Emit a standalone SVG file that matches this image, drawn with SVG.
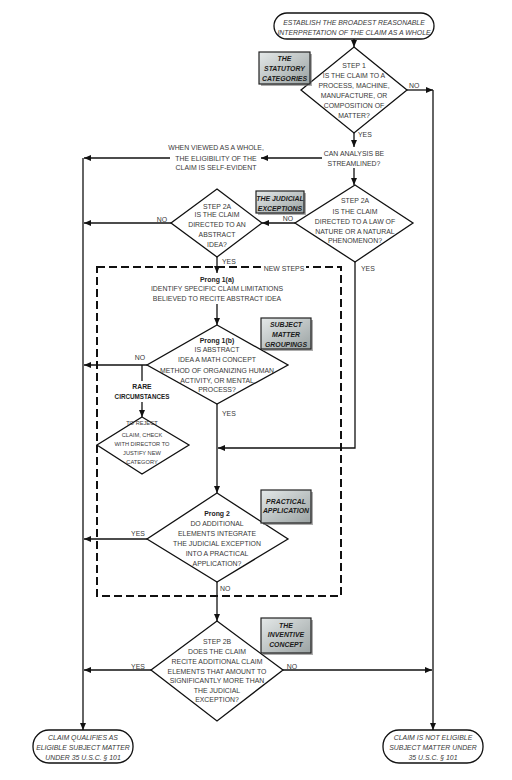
<svg xmlns="http://www.w3.org/2000/svg" width="512" height="780" viewBox="0 0 512 780">
<style>
.t{font-family:"Liberation Sans",Arial,sans-serif;font-size:6.9px;fill:#383838;text-anchor:middle}
.i{font-style:italic}
.b{font-weight:bold;fill:#222}
.s{font-size:5.7px}
.c{font-family:"Liberation Sans",Arial,sans-serif;font-size:6.9px;font-weight:bold;font-style:italic;fill:#1a1a1a;text-anchor:middle}
.l{text-anchor:start}
.shape{fill:#fff;stroke:#111;stroke-width:1.3}
.ln{fill:none;stroke:#111;stroke-width:1.3}
.box{fill:url(#g);stroke:#222;stroke-width:1.2}
.sh{fill:#777;opacity:0.6}
.dash{fill:none;stroke:#111;stroke-width:2;stroke-dasharray:8 4}
</style>
<defs>
<linearGradient id="g" x1="0" y1="0" x2="1" y2="1">
<stop offset="0" stop-color="#e4e8e8"/>
<stop offset="1" stop-color="#9ba3a3"/>
</linearGradient>
<marker id="a" markerUnits="userSpaceOnUse" markerWidth="7" markerHeight="6" refX="7" refY="3" orient="auto">
<path d="M0,0 L7,3 L0,6 z" fill="#111"/>
</marker>
</defs>
<rect width="512" height="780" fill="#fff"/>

<g id="connectors">
<path class="ln" d="M354,39 L354,47" marker-end="url(#a)"/>
<path class="ln" d="M407,90 L433,90" marker-end="url(#a)"/>
<path class="ln" d="M433,90 L433,730" marker-end="url(#a)"/>
<path class="ln" d="M354,133 L354,147" marker-end="url(#a)"/>
<path class="ln" d="M322,158 L261,158" marker-end="url(#a)"/>
<path class="ln" d="M170,158 L84,158" marker-end="url(#a)"/>
<path class="ln" d="M83,158 L83,730" marker-end="url(#a)"/>
<path class="ln" d="M354,168 L354,185" marker-end="url(#a)"/>
<path class="ln" d="M295,223 L262,223" marker-end="url(#a)"/>
<path class="ln" d="M171,223 L84,223" marker-end="url(#a)"/>
<path class="ln" d="M217,257 L217,273" marker-end="url(#a)"/>
<path class="ln" d="M217,304 L217,325" marker-end="url(#a)"/>
<path class="ln" d="M147,365 L84,365" marker-end="url(#a)"/>
<path class="ln" d="M142,365 L142,381"/>
<path class="ln" d="M142,402 L142,417" marker-end="url(#a)"/>
<path class="ln" d="M355,262 L355,448 L218,448" marker-end="url(#a)"/>
<path class="ln" d="M217,404 L217,493" marker-end="url(#a)"/>
<path class="ln" d="M147,539 L84,539" marker-end="url(#a)"/>
<path class="ln" d="M217,582 L217,621" marker-end="url(#a)"/>
<path class="ln" d="M151,670 L84,670" marker-end="url(#a)"/>
<path class="ln" d="M283,670 L432,670" marker-end="url(#a)"/>
<text class="t l" x="409" y="88">NO</text>
<text class="t l" x="358" y="137">YES</text>
<text class="t" x="288" y="221">NO</text>
<text class="t" x="162" y="221.5">NO</text>
<text class="t l" x="222" y="264">YES</text>
<text class="t" x="140" y="360">NO</text>
<text class="t l" x="361" y="271">YES</text>
<text class="t l" x="222" y="416">YES</text>
<text class="t" x="138" y="535.5">YES</text>
<text class="t l" x="220" y="591">NO</text>
<text class="t" x="138" y="668.5">YES</text>
<text class="t" x="292" y="668.5">NO</text>
</g>

<g id="new-steps">
<rect class="dash" x="97" y="267" width="244" height="329"/>
<rect x="262" y="263" width="44" height="9" fill="#fff"/>
<text class="t" x="284" y="270.5">NEW STEPS</text>
</g>

<g id="start">
<rect class="shape" x="274" y="13" width="160" height="26" rx="13"/>
<text class="t i" x="354" y="24.5">ESTABLISH THE BROADEST REASONABLE</text>
<text class="t i" x="354" y="34.5">INTERPRETATION OF THE CLAIM AS A WHOLE</text>
</g>

<g id="step1">
<polygon class="shape" points="354,47 407,90 354,133 301,90"/>
<text class="t" x="354" y="67.5">STEP 1</text>
<text class="t" x="354" y="77.5">IS THE CLAIM TO A</text>
<text class="t" x="354" y="87.5">PROCESS, MACHINE,</text>
<text class="t" x="354" y="97.5">MANUFACTURE, OR</text>
<text class="t" x="354" y="107.5">COMPOSITION OF</text>
<text class="t" x="354" y="117.5">MATTER?</text>
</g>

<g id="statutory-categories">
<rect class="sh" x="261" y="54" width="51" height="32"/>
<rect class="box" x="259" y="52" width="51" height="32"/>
<text class="c" x="284.5" y="60.5">THE</text>
<text class="c" x="284.5" y="70.5">STATUTORY</text>
<text class="c" x="284.5" y="80.5">CATEGORIES</text>
</g>

<g id="streamlined">
<text class="t" x="354" y="155.5">CAN ANALYSIS BE</text>
<text class="t" x="354" y="165.5">STREAMLINED?</text>
</g>

<g id="self-evident">
<text class="t" x="216" y="149.5">WHEN VIEWED AS A WHOLE,</text>
<text class="t" x="216" y="160.5">THE ELIGIBILITY OF THE</text>
<text class="t" x="216" y="170">CLAIM IS SELF-EVIDENT</text>
</g>

<g id="step2a-law">
<polygon class="shape" points="355,185 413,223 355,262 295,223"/>
<text class="t" x="355" y="202.5">STEP 2A</text>
<text class="t" x="355" y="213.5">IS THE CLAIM</text>
<text class="t" x="355" y="224">DIRECTED TO A LAW OF</text>
<text class="t" x="355" y="233.5">NATURE OR A NATURAL</text>
<text class="t" x="355" y="243">PHENOMENON?</text>
</g>

<g id="judicial-exceptions">
<rect class="sh" x="258" y="193" width="48" height="22"/>
<rect class="box" x="256" y="191" width="48" height="22"/>
<text class="c" x="280" y="200.5">THE JUDICIAL</text>
<text class="c" x="280" y="210.5">EXCEPTIONS</text>
</g>

<g id="step2a-abstract">
<polygon class="shape" points="217,189 262,223 217,257 171,223"/>
<text class="t" x="217" y="208.5">STEP 2A</text>
<text class="t" x="217" y="217">IS THE CLAIM</text>
<text class="t" x="217" y="226.5">DIRECTED TO AN</text>
<text class="t" x="217" y="236.5">ABSTRACT</text>
<text class="t" x="217" y="246.5">IDEA?</text>
</g>

<g id="prong1a">
<text class="t b" x="217" y="281.5">Prong 1(a)</text>
<text class="t" x="217" y="291">IDENTIFY SPECIFIC CLAIM LIMITATIONS</text>
<text class="t" x="217" y="300.5">BELIEVED TO RECITE ABSTRACT IDEA</text>
</g>

<g id="prong1b">
<polygon class="shape" points="217,325 288,365 217,404 147,365"/>
<text class="t b" x="217" y="342.5">Prong 1(b)</text>
<text class="t" x="217" y="352">IS ABSTRACT</text>
<text class="t" x="217" y="362">IDEA A MATH CONCEPT</text>
<text class="t" x="217" y="372.5">METHOD OF ORGANIZING HUMAN</text>
<text class="t" x="217" y="382.5">ACTIVITY, OR MENTAL</text>
<text class="t" x="217" y="391.5">PROCESS?</text>
</g>

<g id="subject-matter-groupings">
<rect class="sh" x="263" y="320" width="50" height="31"/>
<rect class="box" x="261" y="318" width="50" height="31"/>
<text class="c" x="286" y="326.5">SUBJECT</text>
<text class="c" x="286" y="336.5">MATTER</text>
<text class="c" x="286" y="346.5">GROUPINGS</text>
</g>

<g id="rare-circumstances">
<text class="t b" x="142" y="388.5" style="font-size:6.8px">RARE</text>
<text class="t b" x="142" y="398.5" style="font-size:6.3px">CIRCUMSTANCES</text>
</g>

<g id="new-category">
<polygon class="shape" points="142,417 189,445 142,474 97,445"/>
<text class="t s" x="142" y="424.5">TO REJECT</text>
<text class="t s" x="142" y="437">CLAIM, CHECK</text>
<text class="t s" x="142" y="446">WITH DIRECTOR TO</text>
<text class="t s" x="142" y="455">JUSTIFY NEW</text>
<text class="t s" x="142" y="463.5">CATEGORY</text>
</g>

<g id="prong2">
<polygon class="shape" points="217,493 288,539 217,582 147,539"/>
<text class="t b" x="217" y="515.5">Prong 2</text>
<text class="t" x="217" y="525.5">DO ADDITIONAL</text>
<text class="t" x="217" y="535.5">ELEMENTS INTEGRATE</text>
<text class="t" x="217" y="545.5">THE JUDICIAL EXCEPTION</text>
<text class="t" x="217" y="555.5">INTO A PRACTICAL</text>
<text class="t" x="217" y="565.5">APPLICATION?</text>
</g>

<g id="practical-application">
<rect class="sh" x="263" y="492" width="50" height="33"/>
<rect class="box" x="261" y="490" width="50" height="33"/>
<text class="c" x="286" y="504">PRACTICAL</text>
<text class="c" x="286" y="513">APPLICATION</text>
</g>

<g id="step2b">
<polygon class="shape" points="217,621 283,670 217,721 151,670"/>
<text class="t" x="217" y="643.5">STEP 2B</text>
<text class="t" x="217" y="653.5">DOES THE CLAIM</text>
<text class="t" x="217" y="663.5">RECITE ADDITIONAL CLAIM</text>
<text class="t" x="217" y="673.5">ELEMENTS THAT AMOUNT TO</text>
<text class="t" x="217" y="682.5">SIGNIFICANTLY MORE THAN</text>
<text class="t" x="217" y="692.5">THE JUDICIAL</text>
<text class="t" x="217" y="702">EXCEPTION?</text>
</g>

<g id="inventive-concept">
<rect class="sh" x="263" y="620" width="50" height="35"/>
<rect class="box" x="261" y="618" width="50" height="35"/>
<text class="c" x="286" y="627.5">THE</text>
<text class="c" x="286" y="636.5">INVENTIVE</text>
<text class="c" x="286" y="646.5">CONCEPT</text>
</g>

<g id="eligible">
<rect class="shape" x="33" y="730" width="100" height="33" rx="16"/>
<text class="t i" x="83" y="739.5">CLAIM QUALIFIES AS</text>
<text class="t i" x="83" y="749.5">ELIGIBLE SUBJECT MATTER</text>
<text class="t i" x="83" y="760">UNDER 35 U.S.C. § 101</text>
</g>

<g id="not-eligible">
<rect class="shape" x="383" y="730" width="100" height="33" rx="16"/>
<text class="t i" x="433" y="739.5">CLAIM IS NOT ELIGIBLE</text>
<text class="t i" x="433" y="749.5">SUBJECT MATTER UNDER</text>
<text class="t i" x="433" y="760">35 U.S.C. § 101</text>
</g>
</svg>
